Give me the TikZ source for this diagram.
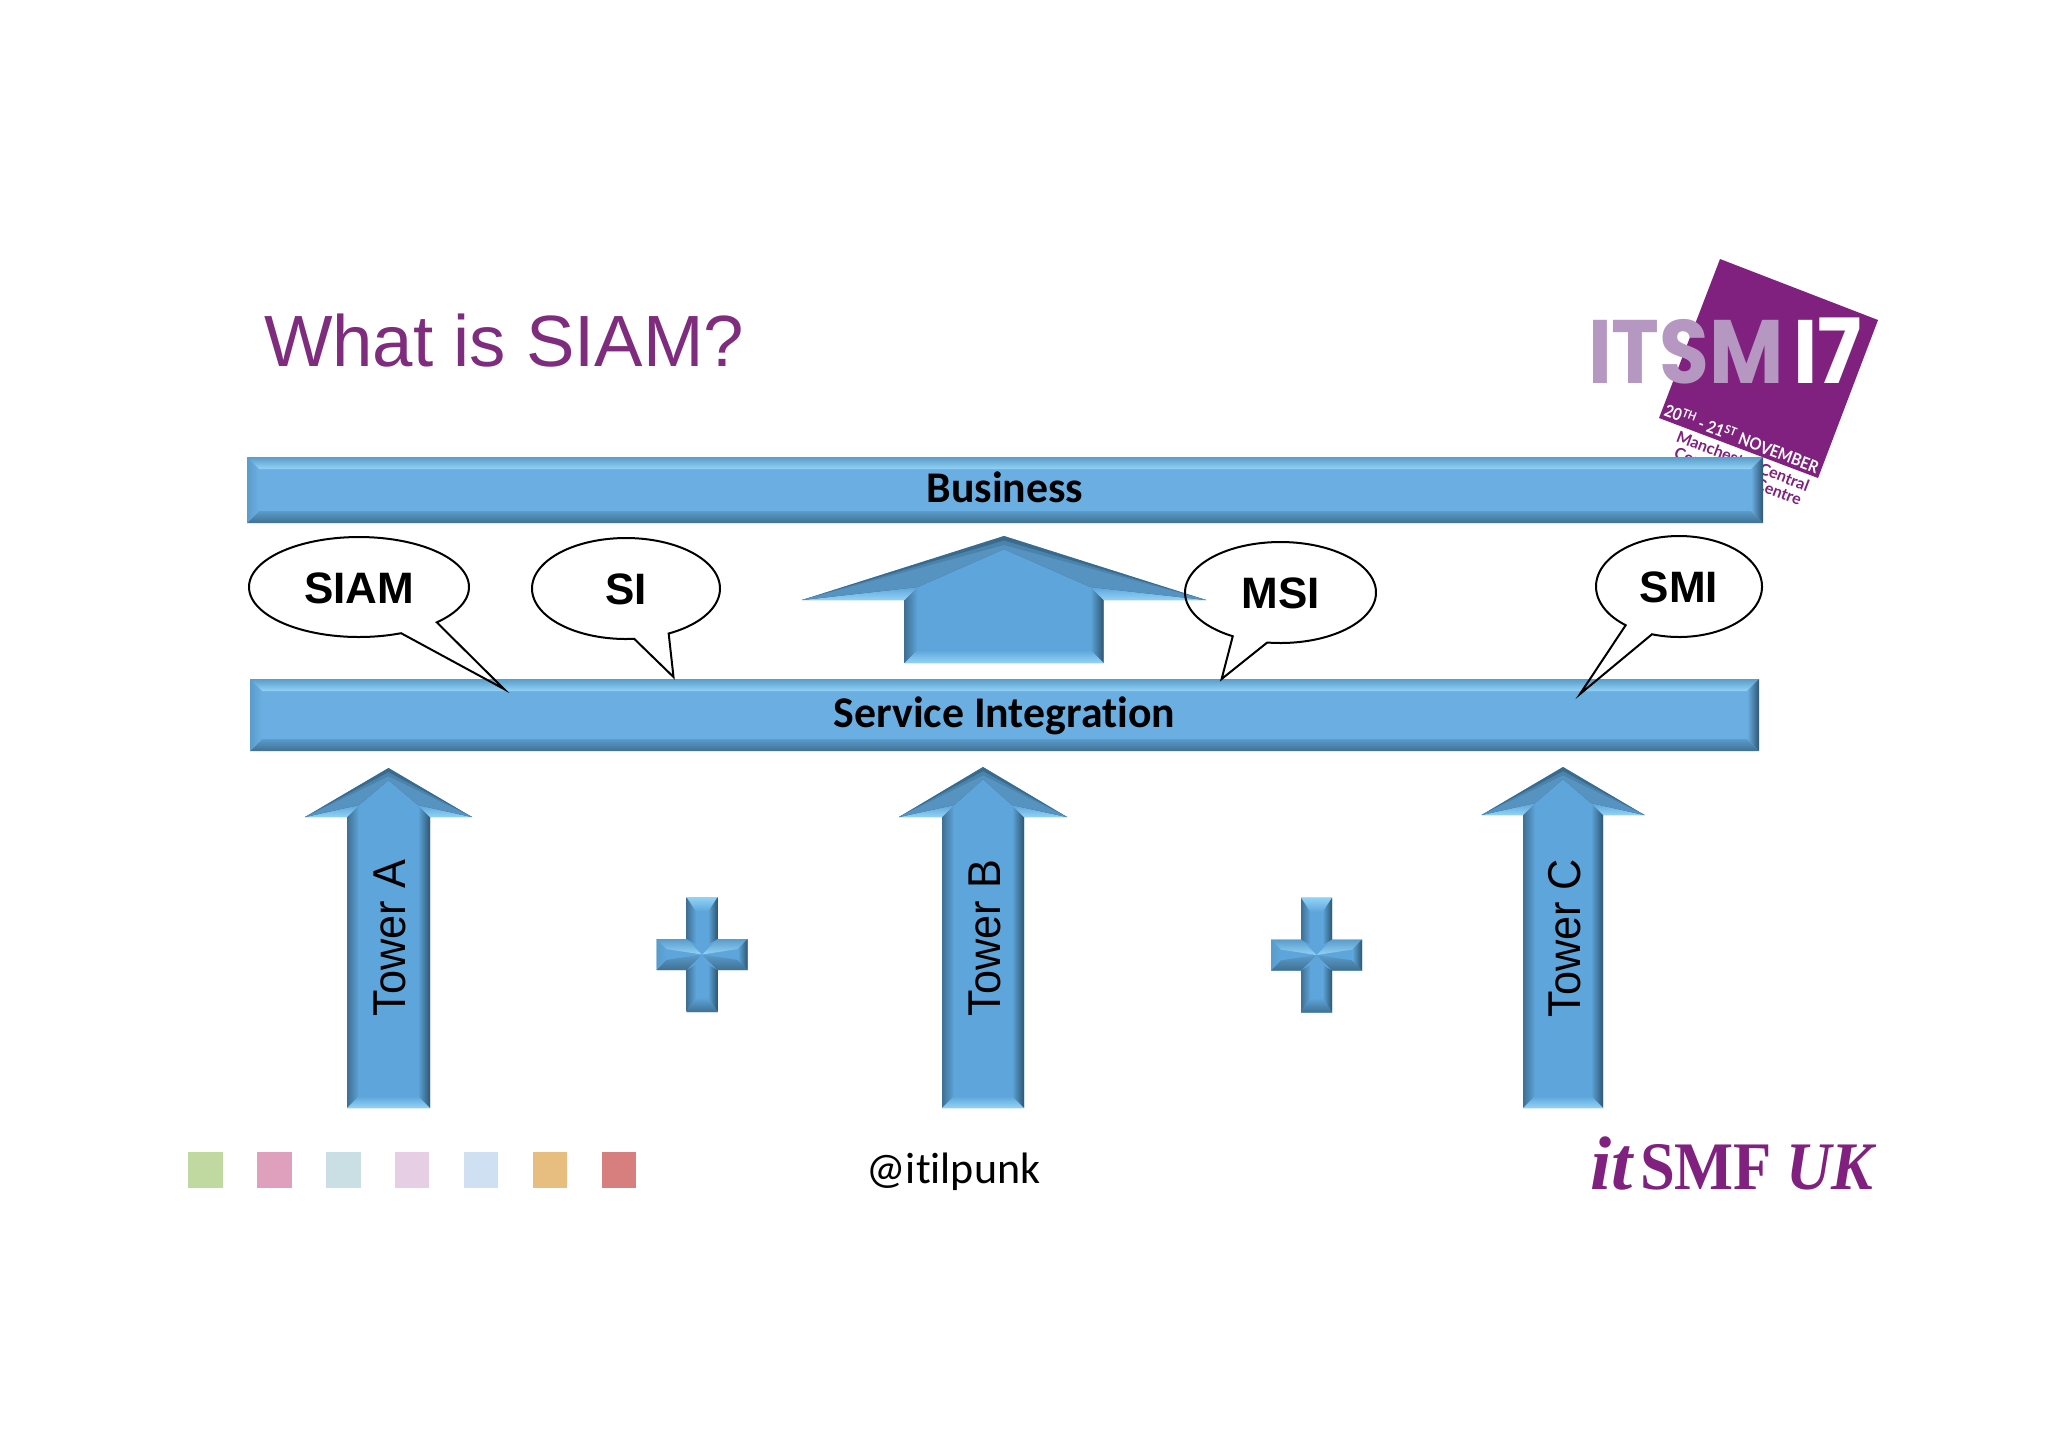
\documentclass[tikz,border=0pt]{standalone}
\usepackage{fontspec}
\setmainfont{Liberation Sans}
\newfontfamily\carlito[Ligatures=NoCommon]{Carlito}
\newfontfamily\popp{Poppins}
\newfontfamily\latof{Lato}
\newfontfamily\libserif{Liberation Serif}
\definecolor{bluebody}{HTML}{6BAFE2}
\definecolor{arrowbody}{HTML}{5DA5DA}
\definecolor{hilite}{HTML}{93D3F6}
\definecolor{edgemid}{HTML}{5A9CCB}
\definecolor{shadowd}{HTML}{2E5672}
\definecolor{shadowm}{HTML}{3F7093}
\definecolor{slopeA}{HTML}{3A6A8C}
\definecolor{slopeB}{HTML}{4A83AB}
\definecolor{slopeC}{HTML}{5793C0}
\definecolor{purpleA}{HTML}{80217F}
\definecolor{purpleL}{HTML}{B597C1}
\definecolor{titlec}{HTML}{7F2C7E}
\definecolor{sqa}{HTML}{BFD9A0}
\definecolor{sqb}{HTML}{DFA0BD}
\definecolor{sqc}{HTML}{C9DFE4}
\definecolor{sqd}{HTML}{E6CFE5}
\definecolor{sqe}{HTML}{CFE0F3}
\definecolor{sqf}{HTML}{E8BD80}
\definecolor{sqg}{HTML}{D67F7E}
\tikzset{
  tophi/.style={top color=edgemid,bottom color=hilite,draw=none},
  bothi/.style={top color=arrowbody,bottom color=hilite,draw=none},
  botdk/.style={top color=edgemid,bottom color=shadowm,draw=none},
  leftdk/.style={left color=shadowm,right color=arrowbody,draw=none},
  rightdk/.style={left color=arrowbody,right color=shadowd,draw=none},
  bub/.style={draw=black,line width=1pt,line join=miter,miter limit=20},
  plain/.style={inner sep=0pt,outer sep=0pt},
  bubtext/.style={plain,font=\bfseries\fontsize{22}{24}\selectfont},
  towertext/.style={plain,rotate=90,font=\fontsize{23}{25}\selectfont},
  bartext/.style={plain,font=\carlito\bfseries\fontsize{21.9}{24}\selectfont},
}
% bevelled bar: x0 y0 x1 y1 b
\newcommand{\bevbar}[5]{%
  \fill[bluebody] (#1,#2) rectangle (#3,#4);
  \shade[tophi] (#1,#2) -- (#3,#2) -- ({#3-#5},{#2+#5}) -- ({#1+#5},{#2+#5}) -- cycle;
  \shade[botdk] (#1,#4) -- (#3,#4) -- ({#3-#5},{#4-#5}) -- ({#1+#5},{#4-#5}) -- cycle;
  \shade[left color=edgemid,right color=bluebody,draw=none] (#1,#2) -- ({#1+#5},{#2+#5}) -- ({#1+#5},{#4-#5}) -- (#1,#4) -- cycle;
  \shade[left color=bluebody,right color=shadowd,draw=none] (#3,#2) -- ({#3-#5},{#2+#5}) -- ({#3-#5},{#4-#5}) -- (#3,#4) -- cycle;
}
% bevelled up arrow: cx halfshaft halfhead tip base bottom b
\newcommand{\bevarrow}[7]{%
  \fill[arrowbody] ({#1-#3},#5) -- (#1,#4) -- ({#1+#3},#5) -- ({#1+#2},#5) -- ({#1+#2},#6) -- ({#1-#2},#6) -- ({#1-#2},#5) -- cycle;
  \shade[leftdk] ({#1-#2},#5) -- ({#1-#2+#7},{#5-#7}) -- ({#1-#2+#7},{#6-#7}) -- ({#1-#2},#6) -- cycle;
  \shade[rightdk] ({#1+#2},#5) -- ({#1+#2-#7},{#5-#7}) -- ({#1+#2-#7},{#6-#7}) -- ({#1+#2},#6) -- cycle;
  \shade[bothi] ({#1-#2},#6) -- ({#1+#2},#6) -- ({#1+#2-#7},{#6-#7}) -- ({#1-#2+#7},{#6-#7}) -- cycle;
  \shade[bothi] ({#1-#3},#5) -- ({#1-#2},#5) -- ({#1-#2+#7},{#5-#7}) -- cycle;
  \shade[bothi] ({#1+#3},#5) -- ({#1+#2},#5) -- ({#1+#2-#7},{#5-#7}) -- cycle;
  \fill[slopeA] ({#1-#3},#5) -- (#1,#4) -- ({#1+#3},#5) -- ({#1+#2-#7},{#5-#7}) -- (#1,{#4+#7}) -- ({#1-#2+#7},{#5-#7}) -- cycle;
  \fill[slopeB] ({#1-#3},#5) -- (#1,{#4+.35*#7}) -- ({#1+#3},#5) -- ({#1+#2-#7},{#5-#7}) -- (#1,{#4+#7}) -- ({#1-#2+#7},{#5-#7}) -- cycle;
  \fill[slopeC] ({#1-#3},#5) -- (#1,{#4+.7*#7}) -- ({#1+#3},#5) -- ({#1+#2-#7},{#5-#7}) -- (#1,{#4+#7}) -- ({#1-#2+#7},{#5-#7}) -- cycle;
}
% bevelled plus: cx cy
\newcommand{\bevplus}[2]{%
  \begin{scope}[shift={(#1,#2)}]
    \fill[arrowbody] (-15.5,-57.5) -- (15.5,-57.5) -- (15.5,-15.5) -- (45.5,-15.5) -- (45.5,15.5) -- (15.5,15.5) -- (15.5,57.5) -- (-15.5,57.5) -- (-15.5,15.5) -- (-45.5,15.5) -- (-45.5,-15.5) -- (-15.5,-15.5) -- cycle;
    \shade[leftdk] (-15.5,-57.5) -- (-6,-43) -- (-6,-10) -- (-15.5,-15.5) -- cycle;
    \shade[rightdk] (15.5,-57.5) -- (6,-43) -- (6,-10) -- (15.5,-15.5) -- cycle;
    \shade[leftdk] (-15.5,57.5) -- (-6,43) -- (-6,10) -- (-15.5,15.5) -- cycle;
    \shade[rightdk] (15.5,57.5) -- (6,43) -- (6,10) -- (15.5,15.5) -- cycle;
    \shade[top color=hilite,bottom color=arrowbody,draw=none] (-15.5,-57.5) -- (15.5,-57.5) -- (6,-43) -- (-6,-43) -- cycle;
    \shade[top color=arrowbody,bottom color=shadowm,draw=none] (-15.5,57.5) -- (15.5,57.5) -- (6,43) -- (-6,43) -- cycle;
    \shade[tophi] (-45.5,-15.5) -- (-15.5,-15.5) -- (0,0) -- (-36,-5.5) -- cycle;
    \shade[tophi] (45.5,-15.5) -- (15.5,-15.5) -- (0,0) -- (36,-5.5) -- cycle;
    \shade[botdk] (-45.5,15.5) -- (-15.5,15.5) -- (0,0) -- (-36,5.5) -- cycle;
    \shade[botdk] (45.5,15.5) -- (15.5,15.5) -- (0,0) -- (36,5.5) -- cycle;
    \shade[left color=edgemid,right color=arrowbody,draw=none] (-45.5,-15.5) -- (-36,-5.5) -- (-36,5.5) -- (-45.5,15.5) -- cycle;
    \shade[rightdk] (45.5,-15.5) -- (36,-5.5) -- (36,5.5) -- (45.5,15.5) -- cycle;
  \end{scope}
}
% speech bubble path: cx cy rx ry t1 t2 tipx tipy
\newcommand{\bubpath}[9][]{%
  \pgfmathsetmacro{\bubend}{#6+360}
  \path[#1] plot[domain=#7:\bubend,samples=120] ({#2+#4*cos(\x)},{#3+#5*sin(\x)}) -- (#8,#9) -- cycle;
}
\begin{document}
\begin{tikzpicture}[x=0.5pt,y=-0.5pt]
\useasboundingbox (0,0) rectangle (2048,1447);
\fill[white] (0,0) rectangle (2048,1447);

% title
\node[plain,anchor=base west,text=titlec,font=\fontsize{36.3}{40}\selectfont] (title) at (264,366) {What is SIAM?};

% ITSM logo
\fill[purpleA] (1720,259) -- (1878,320) -- (1818,478) -- (1659,418) -- cycle;
\node[plain,anchor=base west,text=purpleL,font=\popp\bfseries\fontsize{45}{50}\selectfont] (itsm) at (1588,383) {\scalebox{.9}[1]{ITSM}};
\node[plain,anchor=base west,text=white,font=\popp\bfseries\fontsize{45}{50}\selectfont] (seventeen) at (1793,383) {\scalebox{.92}[1]{I7}};
\node[plain,rotate=-21,text=white,font=\latof\bfseries\fontsize{8.4}{9}\selectfont] (dates) at (1742,438) {\scalebox{.89}[1]{20\textsuperscript{TH} - 21\textsuperscript{ST} NOVEMBER}};
\node[plain,rotate=-21,text=purpleA,font=\latof\bfseries\fontsize{8}{9}\selectfont] (venue1) at (1743,461) {Manchester Central};
\node[plain,rotate=-21,text=purpleA,font=\latof\bfseries\fontsize{8}{9}\selectfont] (venue2) at (1738,476) {Convention Centre};

% bubble fills
\bubpath[fill=white]{359}{587}{110}{50}{45}{67.5}{504}{689}
\bubpath[fill=white]{626}{588.5}{94}{50.5}{63}{85}{673.5}{677}
\bubpath[fill=white]{1280.5}{592.5}{95.5}{50.5}{98}{120}{1221.6}{679}
\bubpath[fill=white]{1679}{586.5}{83}{50.5}{109}{130}{1580}{694}

% bars and arrows
\bevbar{247}{457}{1763}{523}{12}
\bevbar{250}{679}{1759}{751}{12}
\bevarrow{1004}{99.5}{202}{536}{600}{663}{13}
\bevarrow{388.5}{41.5}{83.5}{768}{817}{1108}{12}
\bevarrow{983}{41}{84}{767}{817}{1108}{12}
\bevarrow{1563}{40}{81.5}{767}{815}{1108}{12}
\bevplus{702}{954.5}
\bevplus{1316.5}{955}

% bubble outlines
\bubpath[bub]{359}{587}{110}{50}{45}{67.5}{504}{689}
\bubpath[bub]{626}{588.5}{94}{50.5}{63}{85}{673.5}{677}
\bubpath[bub]{1280.5}{592.5}{95.5}{50.5}{98}{120}{1221.6}{679}
\bubpath[bub]{1679}{586.5}{83}{50.5}{109}{130}{1580}{694}

% texts
\node[bubtext] (siam) at (359,588) {SIAM};
\node[bubtext] (si) at (626,589) {SI};
\node[bubtext] (msi) at (1281,593) {MSI};
\node[bubtext] (smi) at (1679,587.5) {SMI};
\node[bartext] (business) at (1005,487) {Business};
\node[bartext] (service) at (1004.5,716) {Service Integration};
\node[towertext] (towerA) at (390,938) {\scalebox{.94}[1]{Tower A}};
\node[towertext] (towerB) at (985,938) {\scalebox{.94}[1]{Tower B}};
\node[towertext] (towerC) at (1565,938) {\scalebox{.94}[1]{Tower C}};

% colour squares
\fill[sqa] (188,1152) rectangle (223,1188);
\fill[sqb] (257,1152) rectangle (292,1188);
\fill[sqc] (326,1152) rectangle (361,1188);
\fill[sqd] (395,1152) rectangle (429,1188);
\fill[sqe] (464,1152) rectangle (498,1188);
\fill[sqf] (533,1152) rectangle (567,1188);
\fill[sqg] (601.5,1152) rectangle (636,1188);

\node[plain,font=\carlito\fontsize{22}{24}\selectfont] (handle) at (953.5,1172) {@itilpunk};

% itSMF logo
\node[plain,anchor=base west,text=purpleA,font=\libserif\bfseries\itshape\fontsize{38}{44}\selectfont] (logoit) at (1590,1189) {it};
\node[plain,anchor=base west,text=purpleA,font=\libserif\bfseries\fontsize{34}{38}\selectfont] (logosmf) at (1640,1189) {\scalebox{.92}[1]{SMF}};
\node[plain,anchor=base west,text=purpleA,font=\libserif\bfseries\itshape\fontsize{34}{38}\selectfont] (logouk) at (1786,1189) {\scalebox{.92}[1]{UK}};
\end{tikzpicture}
\end{document}
